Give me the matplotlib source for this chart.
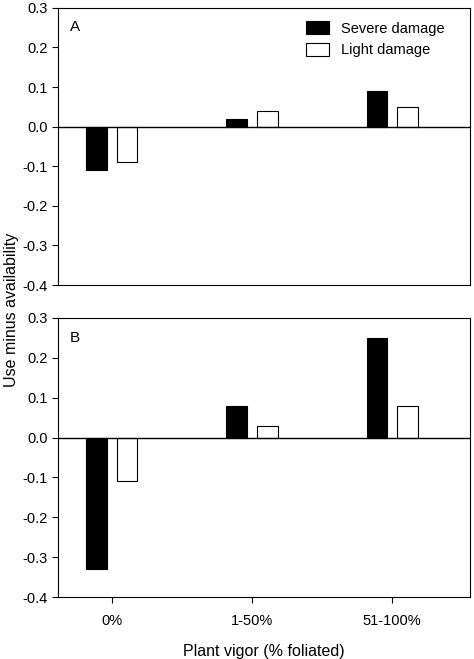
import matplotlib.pyplot as plt
import numpy as np

categories = ["0%", "1-50%", "51-100%"]
severe_a = [-0.11, 0.02, 0.09]
light_a = [-0.09, 0.04, 0.05]
severe_b = [-0.33, 0.08, 0.25]
light_b = [-0.11, 0.03, 0.08]
yticks = [-0.4, -0.3, -0.2, -0.1, 0.0, 0.1, 0.2, 0.3]

plt.rcParams["font.family"] = ["Liberation Sans", "DejaVu Sans"]
plt.rcParams["font.size"] = 10.5

fig = plt.figure(figsize=(4.74, 6.59), dpi=100)
ax_a = fig.add_axes([0.122, 0.5675, 0.87, 0.4205])
ax_b = fig.add_axes([0.122, 0.094, 0.87, 0.4235])

x = np.arange(1, len(categories) + 1)
w = 0.145
off = 0.11

for ax, sev, lig, letter in [(ax_a, severe_a, light_a, "A"), (ax_b, severe_b, light_b, "B")]:
    ax.bar(x - off, sev, w, color="black", edgecolor="black", linewidth=0.8, label="Severe damage")
    ax.bar(x + off, lig, w, color="white", edgecolor="black", linewidth=0.8, label="Light damage")
    ax.axhline(0, color="black", linewidth=1)
    ax.set_ylim(-0.4, 0.3)
    ax.set_xlim(0.614, 3.557)
    ax.set_yticks(yticks)
    ax.set_yticklabels([f"{v:.1f}" for v in yticks])
    ax.set_xticks(x)
    ax.tick_params(direction="out", length=4)
    ax.text(0.03, 0.955, letter, transform=ax.transAxes, fontsize=11, va="top")

ax_a.set_xticklabels([])
ax_a.tick_params(axis="x", length=0)
ax_b.set_xticklabels(categories)
ax_b.tick_params(axis="x", pad=8)
ax_b.set_xlabel("Plant vigor (% foliated)", fontsize=11.5, labelpad=12)
ax_a.legend(loc="upper right", frameon=False, handlelength=1.6, handleheight=1.0,
            borderaxespad=0.5, fontsize=10.5, bbox_to_anchor=(0.97, 1.0))
fig.text(0.025, 0.53, "Use minus availability", rotation=90, va="center", ha="center", fontsize=11.5)

fig.savefig("out.png", dpi=100)
